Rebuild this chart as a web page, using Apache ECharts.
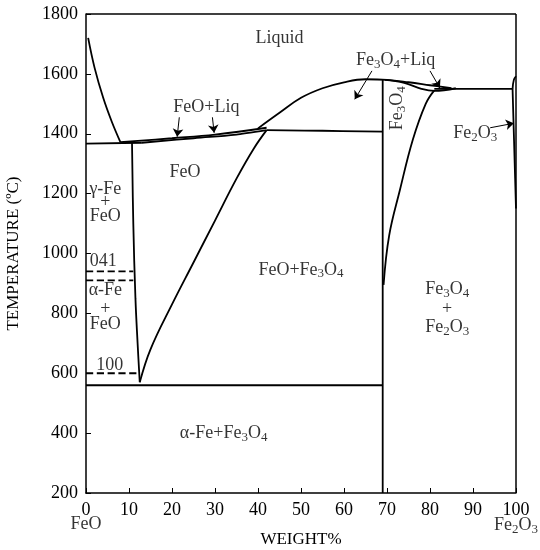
<![CDATA[<!DOCTYPE html><html><head><meta charset="utf-8"><script src="https://cdn.jsdelivr.net/npm/echarts@6/dist/echarts.min.js"></script>
<style>html,body{margin:0;background:#fff}#c{width:540px;height:550px}</style></head><body><div id="c"></div><script>
const xTicks=[0,10,20,30,40,50,60,70,80,90,100];
const yTicks=[200,400,600,800,1000,1200,1400,1600,1800];
const leftLiquidus=[[0.5,1720],[2,1620],[4,1520],[6,1440],[8,1372]];
const solidus1=[[0,1367],[13,1370]];
const feoLiqUpper=[[8,1372],[20,1385],[30,1397],[42,1420]];
const feoLiqLower=[[13,1370],[25,1385],[35,1397],[42,1412]];
const eutecticLine=[[42,1412],[55,1410],[69,1407]];
const dome=[[40,1418],[45,1470],[50,1520],[55,1552],[60,1572],[65,1582],[70,1580],[75,1572],[80,1562],[85,1552]];
const fe3o4Liq=[[69.5,1580],[74,1570],[78,1550],[81,1543],[86,1552]];
const peritectic=[[81,1550],[99.2,1550]];
const fe3o4Right=[[69.2,895],[70.5,1060],[73,1212],[76,1380],[79,1500],[81,1545]];
const fe3o4Left=[[69,1580],[69,200]];
const fe2o3Right=[[99.2,1550],[99.4,1450],[99.7,1300],[100,1150]];
const fe2o3Top=[[99.2,1550],[99.5,1580],[100,1592]];
const feoLeft=[[10.7,1370],[11,1100],[11.5,850],[12,700],[12.5,570]];
const feoRight=[[12.5,570],[15,680],[20,830],[25,970],[30,1110],[35,1250],[39,1350],[42,1412]];
const eutectoid=[[0,560],[69,560]];
const dash600=[[0,600],[12,600]];
const dash940=[[0,940],[11,940]];
const dash910=[[0,910],[11,910]];
const labels=[
 {v:[45,1720],t:'Liquid'},
 {v:[72,1645],t:'Fe{s|3}O{s|4}+Liq'},
 {v:[28,1487],t:'FeO+Liq'},
 {v:[90.5,1400],t:'Fe{s|2}O{s|3}'},
 {v:[23,1272],t:'FeO'},
 {v:[4.5,1215],t:'γ-Fe'},{v:[4.5,1170],t:'+'},{v:[4.5,1125],t:'FeO'},
 {v:[4,975],t:'041'},
 {v:[4.5,878],t:'α-Fe'},{v:[4.5,815],t:'+'},{v:[4.5,762],t:'FeO'},
 {v:[5.5,627],t:'100'},
 {v:[50,945],t:'FeO+Fe{s|3}O{s|4}'},
 {v:[84,880],t:'Fe{s|3}O{s|4}'},{v:[84,815],t:'+'},{v:[84,752],t:'Fe{s|2}O{s|3}'},
 {v:[32,400],t:'α-Fe+Fe{s|3}O{s|4}'}
];
const arrows=[
 [[21.7,1455],[21.2,1390]],[[29.4,1455],[29.8,1403]],
 [[66.5,1610],[62.5,1515]],[[80,1610],[82.3,1553]],
 [[94,1420],[99.5,1435]]
];
const ln=(d,dash)=>({type:'line',data:d,smooth:d.length>2?0.4:false,symbol:'none',lineStyle:{color:'#000',width:1.8,type:dash?'dashed':'solid'},silent:true});
const F='Liberation Serif';
const rich={s:{fontSize:13,verticalAlign:'bottom',padding:[8,0,0,0],fontFamily:F,color:'#000'}};
const chart=echarts.init(document.getElementById('c'));
chart.setOption({
 animation:false,
 grid:{left:86,right:24,top:14,bottom:57,outerBoundsMode:'none'},
 xAxis:{type:'value',min:0,max:100,interval:10,
  axisLine:{lineStyle:{color:'#000',width:1.5}},axisTick:{inside:true,length:5,lineStyle:{color:'#000'}},splitLine:{show:false},
  axisLabel:{color:'#000',fontFamily:F,fontSize:18,formatter:v=>xTicks.includes(v)?String(v):''},
  name:'WEIGHT%',nameLocation:'middle',nameGap:38,nameTextStyle:{color:'#000',fontFamily:F,fontSize:17}},
 yAxis:{type:'value',min:200,max:1800,interval:200,
  axisLine:{lineStyle:{color:'#000',width:1.5}},axisTick:{inside:true,length:5,lineStyle:{color:'#000'}},splitLine:{show:false},
  axisLabel:{color:'#000',fontFamily:F,fontSize:18,formatter:v=>yTicks.includes(v)?String(v):''},
  name:'TEMPERATURE (ºC)',nameLocation:'middle',nameGap:64,nameTextStyle:{color:'#000',fontFamily:F,fontSize:17}},
 series:[
  {type:'line',data:[[0,200],[100,200]],symbol:'none',lineStyle:{width:0},
   markLine:{silent:true,symbol:'none',label:{show:false},lineStyle:{color:'#000',width:1.5,type:'solid'},
    data:[[{coord:[0,1800]},{coord:[100,1800]}],[{coord:[100,200]},{coord:[100,1800]}]]}},
  ln(leftLiquidus),ln(solidus1),ln(feoLiqUpper),ln(feoLiqLower),ln(eutecticLine),ln(dome),ln(fe3o4Liq),ln(peritectic),
  ln(fe3o4Right),ln(fe3o4Left),ln(fe2o3Right),ln(fe2o3Top),ln(feoLeft),ln(feoRight),ln(eutectoid),
  ln(dash600,1),ln(dash940,1),ln(dash910,1),
  {type:'scatter',data:labels.map(l=>({value:l.v,label:{formatter:l.t}})),symbolSize:0,silent:true,
   label:{show:true,position:'inside',color:'#000',fontFamily:F,fontSize:18,rich}},
  {type:'scatter',data:[{value:[72.5,1485]}],symbolSize:0,silent:true,
   label:{show:true,position:'inside',rotate:90,formatter:'Fe{s|3}O{s|4}',color:'#000',fontFamily:F,fontSize:18,rich}},
  {type:'scatter',data:[{value:[0,200]},{value:[100,200]}],symbolSize:0,silent:true,
   label:{show:true,position:'bottom',distance:22,formatter:p=>p.value[0]===0?'FeO':'Fe{s|2}O{s|3}',color:'#000',fontFamily:F,fontSize:18,rich}},
  {type:'line',data:[],markLine:{silent:true,symbol:['none','arrow'],symbolSize:8,label:{show:false},
    lineStyle:{color:'#000',width:1,type:'solid'},data:arrows.map(a=>[{coord:a[0]},{coord:a[1]}])}}
 ]
});
</script></body></html>]]>
